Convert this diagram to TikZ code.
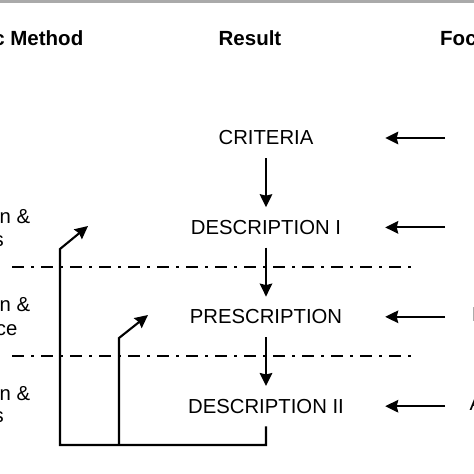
\documentclass[tikz,border=0pt]{standalone}
\usepackage{fontspec}
\setmainfont{Liberation Sans}
\usetikzlibrary{arrows.meta,positioning}
\definecolor{frameGray}{HTML}{AAAAAA}

\begin{document}
\begin{tikzpicture}[
      x=1pt, y=-1pt,
      node distance=49pt,
      res/.style={font=\fontsize{20.3}{24}\selectfont, minimum height=40pt,
                  minimum width=238pt, inner sep=0pt},
      head/.style={font=\fontsize{20.5}{24}\selectfont\bfseries, inner sep=0pt},
      side/.style={font=\fontsize{20.3}{24}\selectfont, inner sep=0pt},
      sepline/.style={line width=2pt, dash pattern=on 12pt off 7pt on 3pt off 7pt},
      arr/.style={->, line width=2.1pt},
      >={Stealth[length=13pt,width=12.5pt,inset=1.5pt]}
    ]
    \useasboundingbox (0,0) rectangle (474,474);
    \clip (0,0) rectangle (474,474);
    \fill[frameGray] (0,0) rectangle (474,2.5);

    \node[head, anchor=base east] (hm) at (83.5,45) {c Method};
    \node[head, anchor=base] (hr) at (250,45) {Result};
    \node[head, anchor=base west] (hf) at (440,45) {Foc};

    \node[res] (crit) at (266,138) {CRITERIA};
    \node[res, below=of crit] (descI) {DESCRIPTION I};
    \node[res, below=of descI] (presc) {PRESCRIPTION};
    \node[res, below=of presc] (descII) {DESCRIPTION II};

    \node[side, anchor=base west] (la1) at (-0.5,223) {n \&};
    \node[side, anchor=base east] (lb1) at (4,246.5) {s};
    \node[side, anchor=base west] (la2) at (-0.5,311.5) {n \&};
    \node[side, anchor=base east] (lb2) at (17.5,335.5) {ce};
    \node[side, anchor=base west] (la3) at (-0.5,400) {n \&};
    \node[side, anchor=base east] (lb3) at (4,422.5) {s};

    \node[side, anchor=base west] (ra2) at (472,321) {P};
    \node[side, anchor=base west] (ra3) at (469.5,410) {A};

    \draw[arr] (crit) -- (descI);
    \draw[arr] (descI) -- (presc);
    \draw[arr] (presc) -- (descII);

    \coordinate (fc1) at ([xshift=60pt]crit.east);
    \coordinate (fc2) at ([xshift=60pt]descI.east);
    \coordinate (fc3) at ([xshift=60pt]presc.east);
    \coordinate (fc4) at ([xshift=60pt]descII.east);
    \draw[arr] (fc1) -- (crit.east);
    \draw[arr] (fc2) -- (descI.east);
    \draw[arr] (fc3) -- (presc.east);
    \draw[arr] (fc4) -- (descII.east);

    \coordinate (sepA1) at (12,267);
    \coordinate (sepA2) at (415,267);
    \coordinate (sepB1) at (12,356);
    \coordinate (sepB2) at (415,356);
    \draw[sepline] (sepA1) -- (sepA2);
    \draw[sepline] (sepB1) -- (sepB2);

    \coordinate (fbR) at (266,445);
    \coordinate (fbL) at (60,445);
    \coordinate (fbM) at (119,445);
    \coordinate (kA) at (60,249);
    \coordinate (tipA) at (88,226);
    \coordinate (kB) at (119,338);
    \coordinate (tipB) at (148,315);
    \draw[arr] (descII.south) -- (fbR) -- (fbL) -- (kA) -- (tipA);
    \draw[arr] (fbM) -- (kB) -- (tipB);
  \end{tikzpicture}
\end{document}
